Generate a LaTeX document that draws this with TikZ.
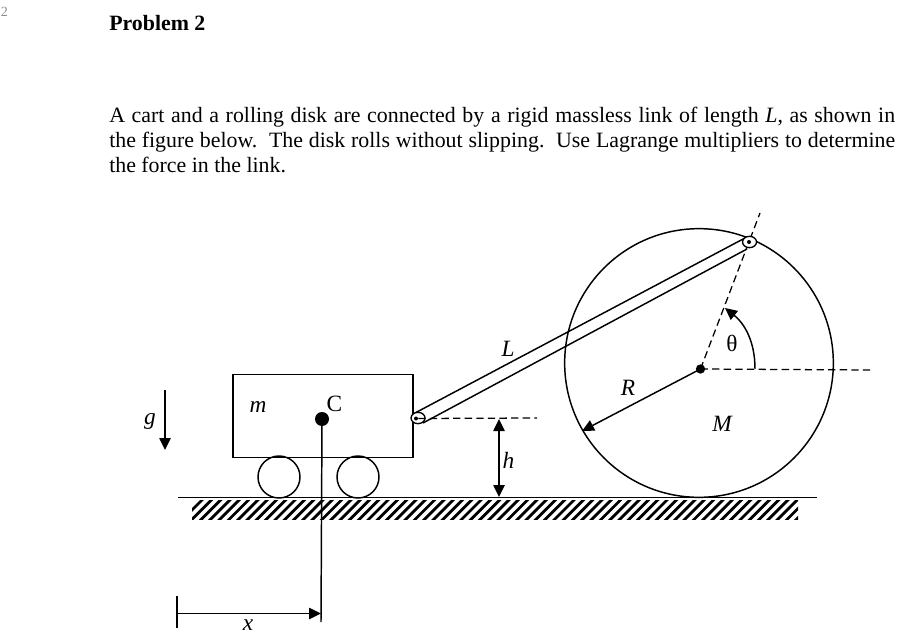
\documentclass[tikz,border=0pt]{standalone}
\usepackage{fontspec}
\setmainfont{Liberation Serif}
\usetikzlibrary{arrows.meta,shapes.geometric}
\tikzset{
  x=0.75pt,y=-0.75pt,
  ln/.style={line width=1.1pt,black},
  dashln/.style={line width=0.95pt,dash pattern=on 5.5pt off 3.2pt},
  arr/.style={line width=1.1pt,-{Triangle[length=9pt,width=8.5pt]}},
  darr/.style={line width=1.1pt,{Triangle[length=9pt,width=8.5pt]}-{Triangle[length=9pt,width=8.5pt]}},
  lab/.style={inner sep=0pt,font=\fontsize{17.5}{20}\selectfont\itshape},
  rom/.style={inner sep=0pt,font=\fontsize{17.5}{20}\selectfont},
  body/.style={inner sep=0pt,anchor=base west,font=\fontsize{16.4}{19}\selectfont},
  pinbox/.style={ellipse,draw,line width=1pt,fill=white,minimum width=10.5pt,minimum height=8.5pt,inner sep=0pt},
  pindot/.style={circle,fill=black,minimum size=3pt,inner sep=0pt},
}
\begin{document}
\begin{tikzpicture}
\useasboundingbox (0,0) rectangle (900,635);
\clip (0,0) rectangle (900,635);
% header and paragraph
\node[inner sep=0pt,anchor=base west,text=black!45,font=\fontsize{10.5}{12}\selectfont] (pg) at (0.5,17) {2};
\node[body,font=\fontsize{16.4}{19}\selectfont\bfseries] (ttl) at (109,30.5) {Problem 2};
\node[body] (l1) at (109,122.5) {\makebox[589.5pt][s]{A cart and a rolling disk are connected by a rigid massless link of length \textit{L}, as shown in}};
\node[body] (l2) at (109,147.5) {\makebox[589.5pt][s]{the figure below.\ \ The disk rolls without slipping.\ \ Use Lagrange multipliers to determine}};
\node[body] (l3) at (109,172.5) {the force in the link.};
% ground hatching
\begin{scope}
\clip (192,500.5) rectangle (798,519.5);
\foreach \i in {0,...,67}{
  \draw[line width=2.1pt] ({180+\i*9.3},522) -- ++(24,-24);
}
\end{scope}
\coordinate (gl) at (178,497.5);
\coordinate (gr) at (817,497.5);
\draw[line width=1.3pt] (gl) -- (gr);
% disk
\node[circle,draw,line width=1.1pt,minimum size=201.5pt,inner sep=0pt] (disk) at (699,363) {};
\node[circle,fill=black,minimum size=7pt,inner sep=0pt] (O) at (700.5,369) {};
\coordinate (ray) at (760,213);
\coordinate (rayh) at (870,370);
\draw[dashln] (O.center) -- (ray);
\draw[dashln] (O.center) -- (rayh);
% cart
\node[draw,line width=1.2pt,minimum width=135pt,minimum height=62pt,inner sep=0pt] (cart) at (323,416) {};
\node[circle,draw,line width=1.1pt,minimum size=31.5pt,inner sep=0pt] (w1) at (279,477) {};
\node[circle,draw,line width=1.1pt,minimum size=31.5pt,inner sep=0pt] (w2) at (358,477) {};
% link and pins
\coordinate (a1) at (415,413);
\coordinate (a2) at (745,238);
\coordinate (b1) at (423,423);
\coordinate (b2) at (747,249);
\draw[ln] (a1) -- (a2);
\draw[ln] (b1) -- (b2);
\node[pinbox] (pa) at (418,418) {};
\node[pinbox] (pb) at (749.5,242) {};
\node[pindot] (pa0) at (416,418.5) {};
\node[pindot] (pb0) at (749,242) {};
\coordinate (de) at (537,418);
\draw[dashln] (pa0) -- (de);
% C and x dimension
\node[circle,fill=black,minimum size=10.5pt,inner sep=0pt] (C) at (322,419) {};
\coordinate (xb) at (321,622);
\draw[ln] (C.center) -- (xb);
\coordinate (t1) at (177,596);
\coordinate (t2) at (177,628);
\draw[ln] (t1) -- (t2);
\coordinate (xa) at (177,613.5);
\coordinate (xe) at (321,613.5);
\draw[arr] (xa) -- (xe);
% g arrow
\coordinate (g1) at (165,390);
\coordinate (g2) at (165,450);
\draw[arr] (g1) -- (g2);
% h arrow
\coordinate (h1) at (499,419);
\coordinate (h2) at (499,497);
\draw[darr] (h1) -- (h2);
% R arrow
\coordinate (rt) at (582,431);
\draw[arr] (O.center) -- (rt);
% theta arc
\coordinate (th1) at (755,369);
\coordinate (th2) at (725,308);
\draw[arr] (th1) .. controls (755,342) and (745,324) .. (th2);
% labels
\node[lab] (Lg) at (150,421) {g};
\node[lab] (Lm) at (258,407) {m};
\node[rom] (LC) at (334.5,404) {C};
\node[lab] (Lx) at (248,625) {x};
\node[lab] (Lh) at (508.5,460) {h};
\node[lab] (LL) at (508,349) {L};
\node[lab] (LR) at (628,388) {R};
\node[lab] (LM) at (722,424) {M};
\node[rom] (Lt) at (732,343) {θ};
\end{tikzpicture}
\end{document}
